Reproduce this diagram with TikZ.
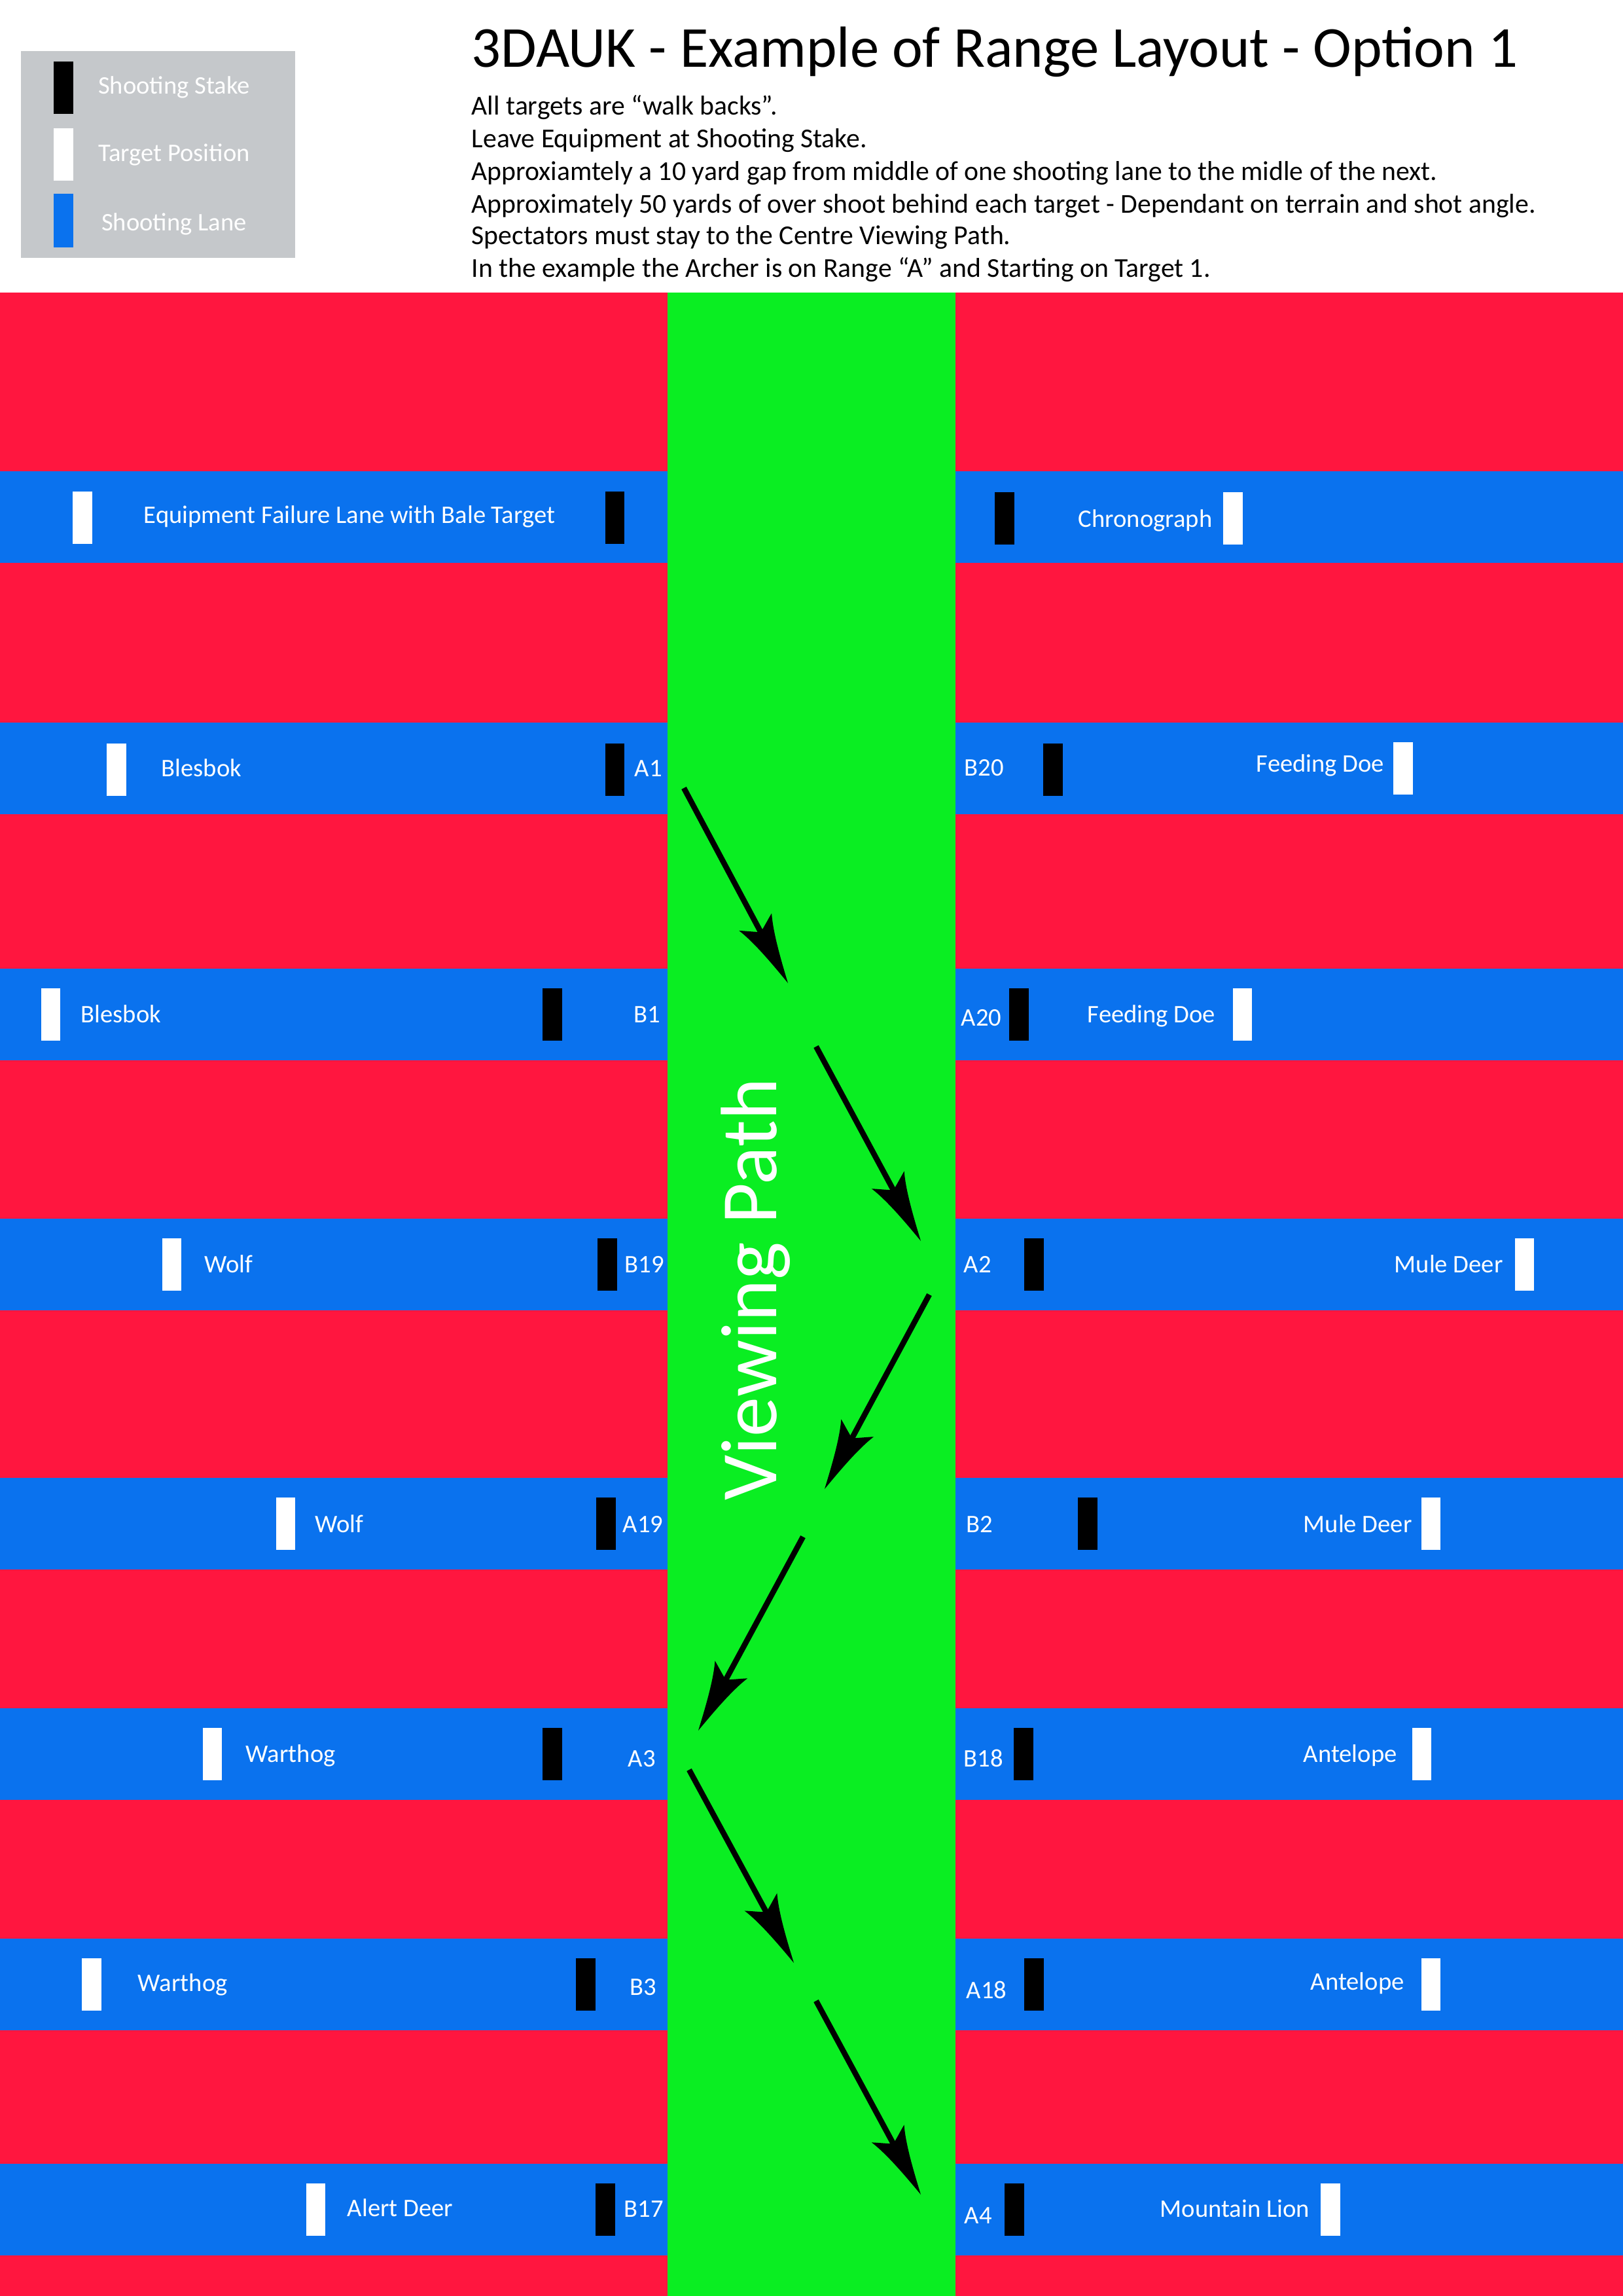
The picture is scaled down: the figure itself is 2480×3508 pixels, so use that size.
\documentclass[tikz,border=0pt]{standalone}
\usepackage{fontspec}
\setmainfont{Carlito}
\usetikzlibrary{arrows.meta}
\definecolor{rangered}{RGB}{255,22,63}
\definecolor{laneblue}{RGB}{10,114,238}
\definecolor{pathgreen}{RGB}{10,238,34}
\definecolor{legendgray}{RGB}{197,200,203}
\pgfdeclarearrow{
  name = Curvy,
  setup code = {
    \pgfarrowssettipend{0pt}
    \pgfarrowssetbackend{-25.5pt}
    \pgfarrowssetlineend{-20.5pt}
    \pgfarrowssetvisualbackend{-21.3pt}
  },
  drawing code = {
    \pgfpathmoveto{\pgfqpoint{0pt}{0pt}}
    \pgfpathcurveto{\pgfqpoint{-9pt}{1.8pt}}{\pgfqpoint{-19pt}{3.9pt}}{\pgfqpoint{-25.5pt}{6.8pt}}
    \pgfpathcurveto{\pgfqpoint{-23.8pt}{4.0pt}}{\pgfqpoint{-22.3pt}{1.9pt}}{\pgfqpoint{-21.3pt}{0pt}}
    \pgfpathcurveto{\pgfqpoint{-22.3pt}{-1.9pt}}{\pgfqpoint{-23.8pt}{-4.0pt}}{\pgfqpoint{-25.5pt}{-6.8pt}}
    \pgfpathcurveto{\pgfqpoint{-19pt}{-3.9pt}}{\pgfqpoint{-9pt}{-1.8pt}}{\pgfqpoint{0pt}{0pt}}
    \pgfpathclose
    \pgfusepathqfill
  }
}
\begin{document}
\begin{tikzpicture}[x=0.0846667mm,y=-0.0846667mm,
  stakebox/.style={fill=black,minimum width=7pt,minimum height=19.27pt,inner sep=0pt,outer sep=0pt},
  targetbox/.style={fill=white,minimum width=7pt,minimum height=19.27pt,inner sep=0pt,outer sep=0pt},
  lanebox/.style={fill=laneblue,minimum width=7pt,minimum height=19.75pt,inner sep=0pt,outer sep=0pt},
  lanetext/.style={text=white,font=\fontsize{9.3}{11}\selectfont,inner sep=0pt,anchor=base west},
  legendtext/.style={text=white,font=\fontsize{9.3}{11}\selectfont,inner sep=0pt,anchor=base},
  notetext/.style={text=black,font=\fontsize{10.05}{12}\selectfont,inner sep=0pt,anchor=base west},
  walk/.style={line width=2.05pt,-Curvy}]
\useasboundingbox (0,0) rectangle (2480,3508);
\fill[white] (0,0) rectangle (2480,3508);
% legend
\fill[legendgray] (32,78) rectangle (451,394);
\node[stakebox] (legstake) at (97,134) {};
\node[targetbox] (legtarget) at (97,236) {};
\node[lanebox] (leglane) at (97,337) {};
\node[legendtext] (legt1) at (266,143) {Shooting Stake};
\node[legendtext] (legt2) at (266,246) {Target Position};
\node[legendtext] (legt3) at (266,352) {Shooting Lane};
% title and notes
\node[text=black,font=\fontsize{21.35}{25}\selectfont,inner sep=0pt,anchor=base west] (title) at (720,102) {3DAUK - Example of Range Layout - Option 1};
\node[notetext] (n1) at (720,175) {All targets are “walk backs”.};
\node[notetext] (n2) at (720,225) {Leave Equipment at Shooting Stake.};
\node[notetext] (n3) at (720,275) {Approxiamtely a 10 yard gap from middle of one shooting lane to the midle of the next.};
\node[notetext] (n4) at (720,325) {Approximately 50 yards of over shoot behind each target - Dependant on terrain and shot angle.};
\node[notetext] (n5) at (720,373) {Spectators must stay to the Centre Viewing Path.};
\node[notetext] (n6) at (720,423) {In the example the Archer is on Range “A” and Starting on Target 1.};
% range ground
\fill[rangered] (0,447) rectangle (2480,3508);
\foreach \t in {720,1104,1480,1862,2258,2610,2962,3306}{
  \fill[laneblue] (0,\t) rectangle (2480,\t+140);
}
\fill[pathgreen] (1020,447) rectangle (1460,3508);
% lane 1
\node[targetbox] (l1t) at (126,791) {};
\node[stakebox] (l1s) at (939.5,791) {};
\node[lanetext] (l1txt) at (219,799) {Equipment Failure Lane with Bale Target};
\node[stakebox] (r1s) at (1535,792) {};
\node[lanetext] (r1txt) at (1647,805) {Chronograph};
\node[targetbox] (r1t) at (1884,792) {};
% lane 2
\node[targetbox] (l2t) at (178,1176) {};
\node[lanetext] (l2txt) at (246,1186) {Blesbok};
\node[stakebox] (l2s) at (939.5,1176) {};
\node[lanetext] (l2n) at (969,1186) {A1};
\node[lanetext] (r2n) at (1473,1185) {B20};
\node[stakebox] (r2s) at (1609,1176) {};
\node[lanetext] (r2txt) at (1919,1179) {Feeding Doe};
\node[targetbox] (r2t) at (2144,1174) {};
% lane 3
\node[targetbox] (l3t) at (77.5,1550) {};
\node[lanetext] (l3txt) at (123,1562) {Blesbok};
\node[stakebox] (l3s) at (844,1550) {};
\node[lanetext] (l3n) at (968,1562) {B1};
\node[lanetext] (r3n) at (1468,1567) {A20};
\node[stakebox] (r3s) at (1557,1550) {};
\node[lanetext] (r3txt) at (1661,1562) {Feeding Doe};
\node[targetbox] (r3t) at (1898.5,1550) {};
% lane 4
\node[targetbox] (l4t) at (262.5,1932) {};
\node[lanetext] (l4txt) at (312,1944) {Wolf};
\node[stakebox] (l4s) at (928,1932) {};
\node[lanetext] (l4n) at (954,1944) {B19};
\node[lanetext] (r4n) at (1472,1944) {A2};
\node[stakebox] (r4s) at (1580,1932) {};
\node[lanetext] (r4txt) at (2130,1944) {Mule Deer};
\node[targetbox] (r4t) at (2329,1932) {};
% lane 5
\node[targetbox] (l5t) at (436.5,2328) {};
\node[lanetext] (l5txt) at (481,2341) {Wolf};
\node[stakebox] (l5s) at (926,2328) {};
\node[lanetext] (l5n) at (951,2341) {A19};
\node[lanetext] (r5n) at (1476,2341) {B2};
\node[stakebox] (r5s) at (1662,2328) {};
\node[lanetext] (r5txt) at (1991,2341) {Mule Deer};
\node[targetbox] (r5t) at (2186.5,2328) {};
% lane 6
\node[targetbox] (l6t) at (324.5,2680) {};
\node[lanetext] (l6txt) at (375,2692) {Warthog};
\node[stakebox] (l6s) at (844,2680) {};
\node[lanetext] (l6n) at (959,2699) {A3};
\node[lanetext] (r6n) at (1472,2699) {B18};
\node[stakebox] (r6s) at (1564,2680) {};
\node[lanetext] (r6txt) at (1991,2692) {Antelope};
\node[targetbox] (r6t) at (2172.5,2680) {};
% lane 7
\node[targetbox] (l7t) at (140,3032) {};
\node[lanetext] (l7txt) at (210,3042) {Warthog};
\node[stakebox] (l7s) at (895,3032) {};
\node[lanetext] (l7n) at (962,3048) {B3};
\node[lanetext] (r7n) at (1476,3053) {A18};
\node[stakebox] (r7s) at (1580,3032) {};
\node[lanetext] (r7txt) at (2002,3040) {Antelope};
\node[targetbox] (r7t) at (2186.5,3032) {};
% lane 8
\node[targetbox] (l8t) at (482.5,3376) {};
\node[lanetext] (l8txt) at (530,3386) {Alert Deer};
\node[stakebox] (l8s) at (925,3376) {};
\node[lanetext] (l8n) at (953,3387) {B17};
\node[lanetext] (r8n) at (1473,3397) {A4};
\node[stakebox] (r8s) at (1550,3376) {};
\node[lanetext] (r8txt) at (1772,3387) {Mountain Lion};
\node[targetbox] (r8t) at (2033,3376) {};
% viewing path label
\node[rotate=90,anchor=base west,text=white,font=\fontsize{29.4}{34}\selectfont,inner sep=0pt] (vp) at (1186,2293) {Viewing Path};
% walking arrows
\coordinate (w1s) at (1045,1204); \coordinate (w1e) at (1204,1502);
\coordinate (w2s) at (1247,1599); \coordinate (w2e) at (1407,1896);
\coordinate (w3s) at (1420,1978); \coordinate (w3e) at (1260,2275);
\coordinate (w4s) at (1227,2348); \coordinate (w4e) at (1067,2644);
\coordinate (w5s) at (1053,2704); \coordinate (w5e) at (1213,2999);
\coordinate (w6s) at (1247,3057); \coordinate (w6e) at (1407,3353);
\draw[walk] (w1s) -- (w1e);
\draw[walk] (w2s) -- (w2e);
\draw[walk] (w3s) -- (w3e);
\draw[walk] (w4s) -- (w4e);
\draw[walk] (w5s) -- (w5e);
\draw[walk] (w6s) -- (w6e);
\end{tikzpicture}
\end{document}
